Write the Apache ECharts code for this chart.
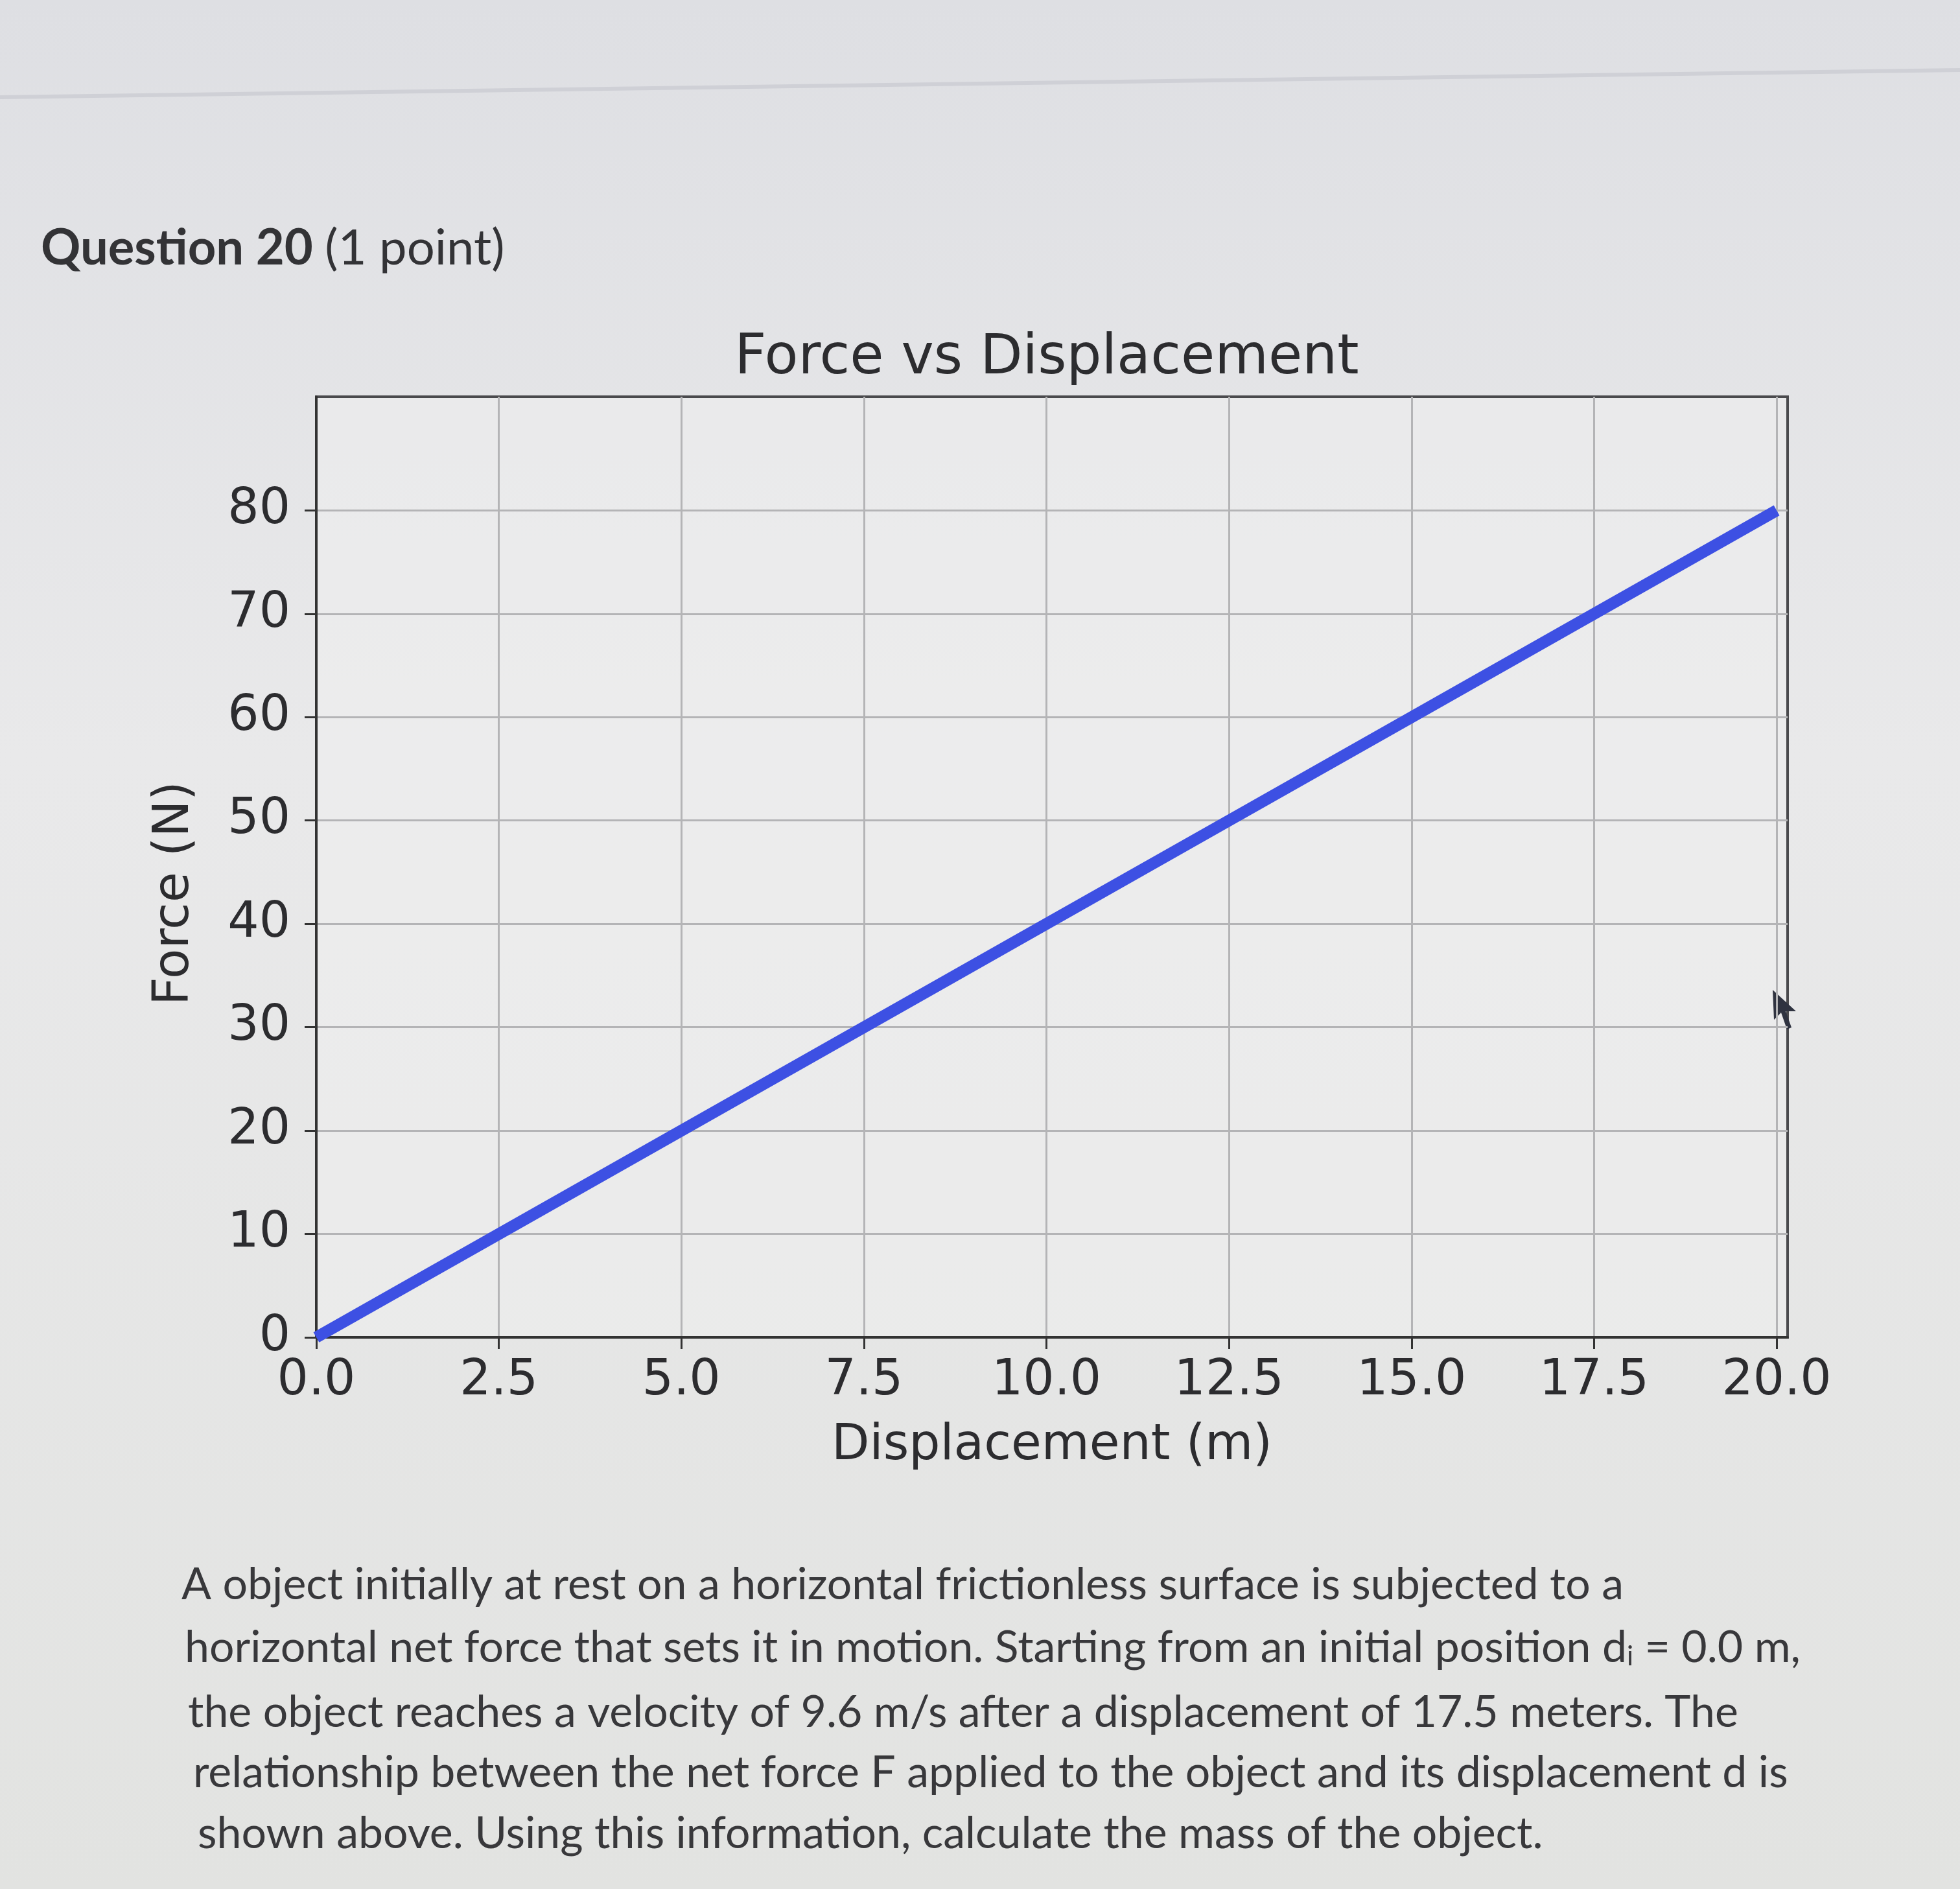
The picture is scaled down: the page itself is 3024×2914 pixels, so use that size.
<!DOCTYPE html>
<html>
<head>
<meta charset="utf-8">
<script src="https://cdn.jsdelivr.net/npm/echarts@6/dist/echarts.min.js"></script>
<style>
  html, body { margin: 0; padding: 0; background: #e6e6e9; }
  #chart { width: 3024px; height: 2914px; }
</style>
</head>
<body>
<div id="chart"></div>
<script>
// data
var displacement = [0, 2.5, 5, 7.5, 10, 12.5, 15, 17.5, 20];
var force = [0, 10, 20, 30, 40, 50, 60, 70, 80];
var xTicks = [0, 2.5, 5, 7.5, 10, 12.5, 15, 17.5, 20];
var yTicks = [0, 10, 20, 30, 40, 50, 60, 70, 80];

var questionLines = [
  'A object initially at rest on a horizontal frictionless surface is subjected to a',
  '{n|horizontal net force that sets it in motion. Starting from an initial position d}{s|i}{n| = 0.0 m,}',
  'the object reaches a velocity of 9.6 m/s after a displacement of 17.5 meters. The',
  'relationship between the net force F applied to the object and its displacement d is',
  'shown above. Using this information, calculate the mass of the object.'
];
var lineX = [280, 285, 290, 298, 305];
var lineY = [2441, 2538, 2638, 2731, 2825];

var chart = echarts.init(document.getElementById('chart'));

var points = [];
for (var i = 0; i < displacement.length; i++) {
  points.push([displacement[i], force[i]]);
}

var ink = '#2c2c2f';
var tickFont = 'DejaVu Sans';
var paraSize = 68;

var els = [];
for (var k = 0; k < questionLines.length; k++) {
  els.push({
    type: 'text',
    left: lineX[k],
    top: lineY[k] - 30,
    style: {
      text: questionLines[k],
      fontFamily: 'Lato',
      fontSize: paraSize,
      fill: '#38383b',
      rich: {
        n: { fontFamily: 'Lato', fontSize: paraSize, color: '#38383b' },
        s: { fontFamily: 'Lato', fontSize: 42, color: '#38383b', verticalAlign: 'bottom', padding: [26, 0, 0, 0] }
      }
    }
  });
}

// y axis title, placed by hand like the photo
els.push({
  type: 'text',
  x: 270,
  y: 1378,
  rotation: Math.PI / 2,
  style: {
    text: 'Force (N)',
    fontFamily: tickFont,
    fontSize: 76,
    fill: ink,
    align: 'center',
    verticalAlign: 'middle'
  }
});

// faint edge of the page header band
els.push({
  type: 'polyline',
  shape: { points: [[0, 150], [3024, 108]] },
  style: { stroke: '#cfd0d6', lineWidth: 6 }
});
// mouse pointer seen in the photo
els.push({
  type: 'polygon',
  shape: { points: [[2735, 1527], [2737, 1573], [2748, 1562], [2757, 1588], [2764, 1585], [2755, 1560], [2771, 1560]] },
  style: { fill: '#2f3340' }
});

var option = {
  backgroundColor: {
    type: 'linear', x: 0, y: 0, x2: 0, y2: 1,
    colorStops: [
      { offset: 0, color: '#dedfe3' },
      { offset: 0.4, color: '#e9e9ea' },
      { offset: 1, color: '#e2e3e1' }
    ]
  },
  title: [
    {
      text: 'Force vs Displacement',
      left: 1610,
      top: 506,
      textAlign: 'center',
      textStyle: { fontFamily: tickFont, fontSize: 85, fontWeight: 'normal', color: ink }
    },
    {
      text: '{b|Question 20 }{n|(1 point)}',
      left: 58,
      top: 340,
      textStyle: {
        rich: {
          b: { fontFamily: 'Lato', fontWeight: 'bold', fontSize: 76, color: '#333336' },
          n: { fontFamily: 'Lato', fontWeight: 'normal', fontSize: 76, color: '#333336' }
        }
      }
    }
  ],
  grid: {
    left: 488, right: 266, top: 612, bottom: 851,
    show: true, borderColor: '#4a4a4d', borderWidth: 4, backgroundColor: 'rgba(240,240,240,0.5)'
  },
  xAxis: {
    type: 'value',
    min: 0,
    max: 20.15,
    name: 'Displacement (m)',
    nameLocation: 'middle',
    nameGap: 130,
    nameTextStyle: { fontFamily: tickFont, fontSize: 76, color: ink },
    axisLine: { show: true, lineStyle: { color: '#333', width: 4 } },
    axisTick: { show: true, customValues: xTicks, length: 18, lineStyle: { color: '#333', width: 3 } },
    axisLabel: {
      customValues: xTicks,
      margin: 30,
      fontFamily: tickFont, fontSize: 76, color: ink,
      formatter: function (v) { return v.toFixed(1); }
    },
    splitLine: { show: true, lineStyle: { color: '#b4b4b6', width: 3 } }
  },
  yAxis: {
    type: 'value',
    min: 0,
    max: 91,
    axisLine: { show: true, lineStyle: { color: '#333', width: 4 } },
    axisTick: { show: true, customValues: yTicks, length: 18, lineStyle: { color: '#333', width: 3 } },
    axisLabel: {
      customValues: yTicks,
      margin: 40,
      fontFamily: tickFont, fontSize: 76, color: ink
    },
    splitLine: { show: true, lineStyle: { color: '#b4b4b6', width: 3 } }
  },
  series: [
    {
      type: 'line',
      data: points,
      showSymbol: false,
      symbol: 'none',
      lineStyle: { color: '#3d50e3', width: 18 },
      z: 5
    }
  ],
  graphic: els
};

chart.setOption(option);
</script>
</body>
</html>
